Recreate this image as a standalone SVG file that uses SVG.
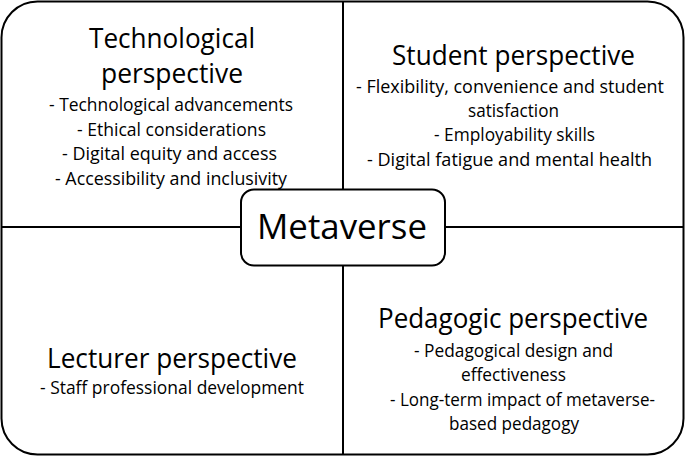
<svg xmlns="http://www.w3.org/2000/svg" width="685" height="456" viewBox="0 0 685 456">
<style>
text{font-family:"Open Sans","Noto Sans","Liberation Sans",sans-serif;fill:#000;text-anchor:middle}
.t{font-size:26.5px}
.b{font-size:18px}
.m{font-size:35px}
.ln{stroke:#000;stroke-width:2;fill:none}
</style>
<rect x="0" y="0" width="685" height="456" fill="#fff"/>
<g id="frame">
<rect class="ln" x="1.5" y="1.5" width="682" height="453" rx="36" ry="36"/>
</g>
<g id="connectors">
<line class="ln" x1="343" y1="1.5" x2="343" y2="454.5"/>
<line class="ln" x1="1.5" y1="227" x2="683.5" y2="227"/>
</g>
<g id="technological">
<text class="t" x="172" y="48" textLength="166" lengthAdjust="spacingAndGlyphs">Technological</text>
<text class="t" x="172" y="83" textLength="142" lengthAdjust="spacingAndGlyphs">perspective</text>
<text class="b" x="171" y="111" textLength="244" lengthAdjust="spacingAndGlyphs">- Technological advancements</text>
<text class="b" x="171.5" y="136" textLength="189" lengthAdjust="spacingAndGlyphs">- Ethical considerations</text>
<text class="b" x="169.5" y="160" textLength="215" lengthAdjust="spacingAndGlyphs">- Digital equity and access</text>
<text class="b" x="171" y="185" textLength="232" lengthAdjust="spacingAndGlyphs">- Accessibility and inclusivity</text>
</g>
<g id="student">
<text class="t" x="513.5" y="65" textLength="243" lengthAdjust="spacingAndGlyphs">Student perspective</text>
<text class="b" x="510" y="93" textLength="308" lengthAdjust="spacingAndGlyphs">- Flexibility, convenience and student</text>
<text class="b" x="513.5" y="117" textLength="91" lengthAdjust="spacingAndGlyphs">satisfaction</text>
<text class="b" x="514.5" y="141" textLength="161" lengthAdjust="spacingAndGlyphs">- Employability skills</text>
<text class="b" x="509.5" y="166" textLength="285" lengthAdjust="spacingAndGlyphs">- Digital fatigue and mental health</text>
</g>
<g id="lecturer">
<text class="t" x="172" y="368" textLength="250" lengthAdjust="spacingAndGlyphs">Lecturer perspective</text>
<text class="b" x="172" y="394" textLength="264" lengthAdjust="spacingAndGlyphs">- Staff professional development</text>
</g>
<g id="pedagogic">
<text class="t" x="513" y="328" textLength="270" lengthAdjust="spacingAndGlyphs">Pedagogic perspective</text>
<text class="b" x="513.5" y="357" textLength="199" lengthAdjust="spacingAndGlyphs">- Pedagogical design and</text>
<text class="b" x="513.5" y="381" textLength="105" lengthAdjust="spacingAndGlyphs">effectiveness</text>
<text class="b" x="522.5" y="406" textLength="265" lengthAdjust="spacingAndGlyphs">- Long-term impact of metaverse-</text>
<text class="b" x="514" y="430" textLength="130" lengthAdjust="spacingAndGlyphs">based pedagogy</text>
</g>
<g id="metaverse">
<rect class="ln" x="241" y="189.5" width="204" height="76" rx="13" ry="13" fill="#fff" style="fill:#fff"/>
<text class="m" x="342" y="239" textLength="170" lengthAdjust="spacingAndGlyphs">Metaverse</text>
</g>
</svg>
